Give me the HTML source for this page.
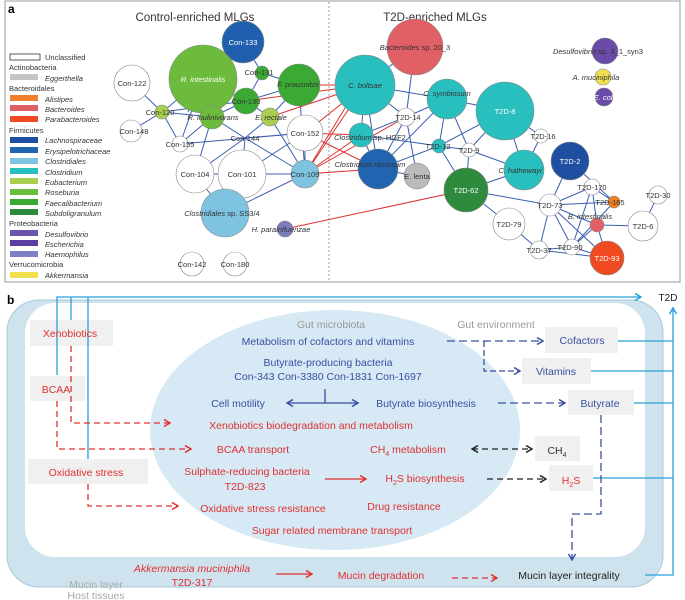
<!DOCTYPE html>
<html><head><meta charset="utf-8"><style>
body{margin:0;background:#fff}
svg{display:block;font-family:"Liberation Sans",sans-serif}
</style></head><body>
<svg width="685" height="600" viewBox="0 0 685 600" xmlns="http://www.w3.org/2000/svg">
<defs>
<marker id="ab" markerWidth="8" markerHeight="8" refX="7" refY="4" orient="auto" markerUnits="userSpaceOnUse"><path d="M1,0.5 L7,4 L1,7.5" fill="none" stroke="#3a4fa0" stroke-width="1.5"/></marker>
<marker id="ar" markerWidth="8" markerHeight="8" refX="7" refY="4" orient="auto" markerUnits="userSpaceOnUse"><path d="M1,0.5 L7,4 L1,7.5" fill="none" stroke="#e03030" stroke-width="1.5"/></marker>
<marker id="ak" markerWidth="8" markerHeight="8" refX="7" refY="4" orient="auto" markerUnits="userSpaceOnUse"><path d="M1,0.5 L7,4 L1,7.5" fill="none" stroke="#222" stroke-width="1.5"/></marker>
<marker id="akr" markerWidth="8" markerHeight="8" refX="1" refY="4" orient="auto" markerUnits="userSpaceOnUse"><path d="M7,0.5 L1,4 L7,7.5" fill="none" stroke="#222" stroke-width="1.5"/></marker>
<marker id="abr" markerWidth="8" markerHeight="8" refX="1" refY="4" orient="auto" markerUnits="userSpaceOnUse"><path d="M7,0.5 L1,4 L7,7.5" fill="none" stroke="#3a4fa0" stroke-width="1.5"/></marker>
<marker id="ac" markerWidth="8" markerHeight="8" refX="7" refY="4" orient="auto" markerUnits="userSpaceOnUse"><path d="M1,0.5 L7,4 L1,7.5" fill="none" stroke="#2aa0dc" stroke-width="1.5"/></marker>
</defs>

<!-- PANEL A -->
<rect x="5" y="1" width="675" height="281" fill="#fff" stroke="#999" stroke-width="1"/>
<line x1="329" y1="2" x2="329" y2="281" stroke="#999" stroke-dasharray="2,2"/>
<text x="8" y="13" font-size="12" font-weight="bold">a</text>
<text x="195" y="21" font-size="11.5" text-anchor="middle" fill="#333">Control-enriched MLGs</text>
<text x="435" y="21" font-size="11.5" text-anchor="middle" fill="#333">T2D-enriched MLGs</text>

<g font-size="7.5" fill="#333">
<rect x="10" y="54" width="30" height="6" fill="#fff" stroke="#333" stroke-width="0.8"/><text x="45" y="60">Unclassified</text>
<text x="9" y="70">Actinobacteria</text>
<rect x="10" y="74" width="28" height="6" fill="#c4c4c4"/><text x="45" y="81" font-style="italic">Eggerthella</text>
<text x="9" y="91">Bacteroidales</text>
<rect x="10" y="95" width="28" height="6" fill="#f08030"/><text x="45" y="102" font-style="italic">Alistipes</text>
<rect x="10" y="105" width="28" height="6" fill="#e06066"/><text x="45" y="112" font-style="italic">Bacteroides</text>
<rect x="10" y="116" width="28" height="6" fill="#f04a25"/><text x="45" y="122" font-style="italic">Parabacteroides</text>
<text x="9" y="133">Firmicutes</text>
<rect x="10" y="137" width="28" height="6" fill="#1f4fa0"/><text x="45" y="143" font-style="italic">Lachnospiraceae</text>
<rect x="10" y="147" width="28" height="6" fill="#2165b0"/><text x="45" y="154" font-style="italic">Erysipelotrichaceae</text>
<rect x="10" y="158" width="28" height="6" fill="#7ec4e0"/><text x="45" y="164" font-style="italic">Clostridiales</text>
<rect x="10" y="168" width="28" height="6" fill="#2abfbf"/><text x="45" y="175" font-style="italic">Clostridium</text>
<rect x="10" y="178" width="28" height="6" fill="#a8cf4f"/><text x="45" y="185" font-style="italic">Eubacterium</text>
<rect x="10" y="189" width="28" height="6" fill="#6cbb3c"/><text x="45" y="195" font-style="italic">Roseburia</text>
<rect x="10" y="199" width="28" height="6" fill="#3aaa35"/><text x="45" y="206" font-style="italic">Faecalibacterium</text>
<rect x="10" y="209" width="28" height="6" fill="#2e8b3e"/><text x="45" y="216" font-style="italic">Subdoligranulum</text>
<text x="9" y="226">Proteobacteria</text>
<rect x="10" y="230" width="28" height="6" fill="#6a55a8"/><text x="45" y="237" font-style="italic">Desulfovibrio</text>
<rect x="10" y="240" width="28" height="6" fill="#5a3ea0"/><text x="45" y="247" font-style="italic">Escherichia</text>
<rect x="10" y="251" width="28" height="6" fill="#8080c4"/><text x="45" y="257" font-style="italic">Haemophilus</text>
<text x="9" y="267">Verrucomicrobia</text>
<rect x="10" y="272" width="28" height="6" fill="#f0e050"/><text x="45" y="278" font-style="italic">Akkermansia</text>
</g>

<g stroke="#3a5fb0" stroke-width="1" fill="none">
<path d="M243,42 L262,73 L246,101 M262,73 L299,85 M246,101 L299,85 M203,79 L246,101 M203,79 L162,112 M203,79 L212,117 M203,79 L180,144 M203,79 L188,112 M132,83 L162,112 M162,112 L246,101 M162,112 L131,131 M162,112 L180,144 M162,112 L212,117 M212,117 L245,138 M212,117 L195,174 M212,117 L180,144 M246,101 L212,117 M246,101 L270,117 M299,85 L270,117 M299,85 L305,174 M270,117 L305,174 M270,117 L245,138 M180,144 L305,133 M245,138 L195,174 M245,138 L242,174 M245,138 L305,174 M245,138 L305,133 M305,133 L305,174 M305,133 L242,174 M195,174 L242,174 M242,174 L305,174 M195,174 L225,213 M242,174 L225,213 M225,213 L305,174"/>
<path d="M365,85 L415,47 M415,47 L406,117 M365,85 L447,99 M365,85 L406,117 M365,85 L361,135 M365,85 L378,169 M447,99 L505,111 M447,99 L439,146 M447,99 L406,117 M447,99 L469,150 M447,99 L378,169 M361,135 L439,146 M361,135 L378,169 M361,135 L406,117 M406,117 L378,169 M406,117 L417,176 M439,146 L378,169 M439,146 L466,190 M439,146 L469,150 M439,146 L505,111 M469,150 L505,111 M469,150 L466,190 M469,150 L524,170 M505,111 L524,170 M505,111 L541,136 M541,136 L524,170 M378,169 L417,176 M466,190 L524,170 M466,190 L550,205 M466,190 L509,224 M570,161 L550,205 M570,161 L614,202 M550,205 L592,187 M550,205 L614,202 M550,205 L597,225 M550,205 L539,250 M550,205 L572,247 M550,205 L607,258 M592,187 L572,247 M592,187 L597,225 M592,187 L614,202 M509,224 L539,250 M539,250 L572,247 M572,247 L607,258 M597,225 L643,226 M597,225 L607,258 M597,225 L572,247 M614,202 L572,247 M643,226 L658,195 M539,250 L607,258"/>
</g>
<g stroke="#e03030" stroke-width="1" fill="none">
<path d="M299,85 L365,85 M246,101 L365,85 M270,117 L365,85 M305,133 L361,135 M305,133 L378,169 M305,174 L365,85 M305,174 L361,135 M305,174 L378,169 M305,174 L406,117 M305,133 L365,85 M285,229 L466,190 M305,174 L345,108"/>
</g>

<g stroke="#888" stroke-width="0.6">
<circle cx="243" cy="42" r="21" fill="#1f5fae"/>
<circle cx="203" cy="79" r="34" fill="#6cbb3c"/>
<circle cx="262" cy="73" r="7" fill="#3aaa35"/>
<circle cx="299" cy="85" r="21" fill="#3aaa35"/>
<circle cx="132" cy="83" r="18" fill="#fff"/>
<circle cx="246" cy="101" r="13" fill="#3aaa35"/>
<circle cx="162" cy="112" r="7" fill="#a8cf4f"/>
<circle cx="212" cy="117" r="12" fill="#6cbb3c"/>
<circle cx="270" cy="117" r="9" fill="#a8cf4f"/>
<circle cx="131" cy="131" r="11" fill="#fff"/>
<circle cx="305" cy="133" r="18" fill="#fff"/>
<circle cx="180" cy="144" r="8" fill="#fff"/>
<circle cx="195" cy="174" r="19" fill="#fff"/>
<circle cx="242" cy="174" r="24" fill="#fff"/>
<circle cx="305" cy="174" r="14" fill="#7ec4e0"/>
<circle cx="225" cy="213" r="24" fill="#7ec4e0"/>
<circle cx="285" cy="229" r="8" fill="#7c7cc0"/>
<circle cx="192" cy="264" r="12" fill="#fff"/>
<circle cx="235" cy="264" r="12" fill="#fff"/>
<circle cx="415" cy="47" r="28" fill="#e06066"/>
<circle cx="365" cy="85" r="30" fill="#2abfbf"/>
<circle cx="447" cy="99" r="20" fill="#2abfbf"/>
<circle cx="505" cy="111" r="29" fill="#2abfbf"/>
<circle cx="406" cy="117" r="9" fill="#fff"/>
<circle cx="361" cy="135" r="12" fill="#2abfbf"/>
<circle cx="439" cy="146" r="7" fill="#2abfbf"/>
<circle cx="469" cy="150" r="7" fill="#fff"/>
<circle cx="541" cy="136" r="7" fill="#fff"/>
<circle cx="378" cy="169" r="20" fill="#2165b0"/>
<circle cx="417" cy="176" r="13" fill="#bbbbbb"/>
<circle cx="524" cy="170" r="20" fill="#2abfbf"/>
<circle cx="570" cy="161" r="19" fill="#1f4fa0"/>
<circle cx="466" cy="190" r="22" fill="#2e8b3e"/>
<circle cx="592" cy="187" r="8" fill="#fff"/>
<circle cx="614" cy="202" r="6" fill="#f08020"/>
<circle cx="658" cy="195" r="9" fill="#fff"/>
<circle cx="550" cy="205" r="11" fill="#fff"/>
<circle cx="597" cy="225" r="7" fill="#e06066"/>
<circle cx="643" cy="226" r="15" fill="#fff"/>
<circle cx="509" cy="224" r="16" fill="#fff"/>
<circle cx="539" cy="250" r="9" fill="#fff"/>
<circle cx="572" cy="247" r="8" fill="#fff"/>
<circle cx="607" cy="258" r="17" fill="#f04a20"/>
<circle cx="605" cy="51" r="13" fill="#6a4ca8"/>
<circle cx="603" cy="77" r="8" fill="#f0e050"/>
<circle cx="604" cy="97" r="9" fill="#6a4ca8"/>
</g>
<g font-size="7.5" fill="#333" text-anchor="middle">
<text x="243" y="45" fill="#fff">Con-133</text>
<text x="203" y="82" font-style="italic" fill="#fff">R. intestinalis</text>
<text x="259" y="75">Con-131</text>
<text x="298" y="87" font-style="italic">F. prausnitzii</text>
<text x="132" y="86">Con-122</text>
<text x="246" y="104">Con-130</text>
<text x="160" y="115">Con-120</text>
<text x="213" y="120" font-style="italic">R. inulinivorans</text>
<text x="271" y="120" font-style="italic">E. rectale</text>
<text x="134" y="134">Con-148</text>
<text x="305" y="136">Con-152</text>
<text x="180" y="147">Con-155</text>
<text x="245" y="141">Con-144</text>
<text x="195" y="177">Con-104</text>
<text x="242" y="177">Con-101</text>
<text x="305" y="177">Con-109</text>
<text x="222" y="216"><tspan font-style="italic">Clostridiales</tspan> sp. SS3/4</text>
<text x="281" y="232" font-style="italic">H. parainfluenzae</text>
<text x="192" y="267">Con-142</text>
<text x="235" y="267">Con-180</text>
<text x="415" y="50"><tspan font-style="italic">Bacteroides</tspan> sp. 20_3</text>
<text x="365" y="88" font-style="italic">C. boltsae</text>
<text x="447" y="96" font-style="italic">C. symbiosum</text>
<text x="505" y="114" fill="#fff">T2D-8</text>
<text x="408" y="120">T2D-14</text>
<text x="370" y="140"><tspan font-style="italic">Clostridium</tspan> sp. HGF2</text>
<text x="438" y="149">T2D-12</text>
<text x="469" y="153">T2D-9</text>
<text x="543" y="139">T2D-16</text>
<text x="370" y="167" font-style="italic">Clostridium ramosum</text>
<text x="417" y="179">E. lenta</text>
<text x="520" y="173" font-style="italic">C. hathewayi</text>
<text x="570" y="164" fill="#fff">T2D-2</text>
<text x="466" y="193" fill="#fff">T2D-62</text>
<text x="592" y="190">T2D-170</text>
<text x="610" y="205">T2D-165</text>
<text x="658" y="198">T2D-30</text>
<text x="550" y="208">T2D-73</text>
<text x="590" y="219" font-style="italic">B. intestinalis</text>
<text x="643" y="229">T2D-6</text>
<text x="509" y="227">T2D-79</text>
<text x="539" y="253">T2D-37</text>
<text x="570" y="250">T2D-90</text>
<text x="607" y="261" fill="#fff">T2D-93</text>
<text x="598" y="54" font-style="italic"><tspan>Desulfovibrio</tspan> <tspan font-style="normal">sp. 3_1_syn3</tspan></text>
<text x="596" y="80" font-style="italic">A. muciniphila</text>
<text x="604" y="100" font-style="italic" fill="#fff">E. coli</text>
</g>

<!-- PANEL B -->
<text x="7" y="304" font-size="12" font-weight="bold">b</text>
<rect x="7" y="300" width="656" height="287" rx="32" fill="#cfe3ee" stroke="#a9c9dc"/>
<rect x="25" y="303" width="620" height="254" rx="30" fill="#fff"/>
<ellipse cx="335" cy="430" rx="185" ry="120" fill="#d6e9f4"/>

<g fill="#f0f0f0">
<rect x="30" y="320" width="83" height="26"/>
<rect x="30" y="376" width="55" height="25"/>
<rect x="28" y="459" width="120" height="25"/>
<rect x="545" y="327" width="73" height="26"/>
<rect x="522" y="358" width="69" height="26"/>
<rect x="568" y="390" width="66" height="25"/>
<rect x="535" y="436" width="45" height="25"/>
<rect x="549" y="465" width="44" height="26"/>
</g>

<g stroke="#2aa0dc" stroke-width="1.3" fill="none">
<path d="M57,375 L57,297 L641,297" marker-end="url(#ac)"/>
<path d="M71,320 L71,297 M88,459 L88,297"/>
<path d="M618,341 L673,341 M591,371 L673,371 M634,403 L673,403 M593,478 L673,478 M645,575 L673,575 L673,307"/>
<path d="M673,312 L673,308" marker-end="url(#ac)"/>
</g>
<g stroke="#e03030" stroke-width="1.3" fill="none" stroke-dasharray="6,4">
<path d="M71,346 L71,423 L170,423" marker-end="url(#ar)"/>
<path d="M57,401 L57,449 L191,449" marker-end="url(#ar)"/>
<path d="M88,484 L88,506 L178,506" marker-end="url(#ar)"/>
<path d="M452,578 L497,578" marker-end="url(#ar)"/>
</g>
<g stroke="#e03030" stroke-width="1.3" fill="none">
<path d="M325,479 L366,479" marker-end="url(#ar)"/>
<path d="M276,574 L312,574" marker-end="url(#ar)"/>
</g>
<g stroke="#3a4fa0" stroke-width="1.3" fill="none">
<path d="M287,403 L358,403" marker-start="url(#abr)" marker-end="url(#ab)"/>
<path d="M325,389 L325,403"/>
</g>
<g stroke="#3a4fa0" stroke-width="1.3" fill="none" stroke-dasharray="8,4">
<path d="M447,341 L543,341" marker-end="url(#ab)"/>
<path d="M484,341 L484,371 L520,371" marker-end="url(#ab)" stroke-dasharray="6,3"/>
<path d="M498,403 L565,403" marker-end="url(#ab)"/>
<path d="M601,415 L601,514 L572,514 L572,560" marker-end="url(#ab)"/>
</g>
<g stroke="#222" stroke-width="1.3" fill="none" stroke-dasharray="6,4">
<path d="M472,449 L532,449" marker-start="url(#akr)" marker-end="url(#ak)"/>
<path d="M487,479 L546,479" marker-end="url(#ak)"/>
</g>

<g font-size="10.5" text-anchor="middle">
<text x="70" y="337" fill="#e03030">Xenobiotics</text>
<text x="56" y="393" fill="#e03030">BCAA</text>
<text x="86" y="476" fill="#e03030">Oxidative stress</text>
<text x="582" y="344" fill="#3a4fa0">Cofactors</text>
<text x="556" y="375" fill="#3a4fa0">Vitamins</text>
<text x="600" y="407" fill="#3a4fa0">Butyrate</text>
<text x="557" y="454" fill="#333">CH<tspan font-size="7" dy="3">4</tspan></text>
<text x="571" y="484" fill="#e03030">H<tspan font-size="7" dy="3">2</tspan><tspan dy="-3">S</tspan></text>
<text x="331" y="328" fill="#999">Gut microbiota</text>
<text x="496" y="328" fill="#999">Gut environment</text>
<text x="328" y="345" fill="#3a4fa0">Metabolism of cofactors and vitamins</text>
<text x="328" y="366" fill="#3a4fa0">Butyrate-producing bacteria</text>
<text x="328" y="380" fill="#3a4fa0">Con-343 Con-3380 Con-1831 Con-1697</text>
<text x="238" y="407" fill="#3a4fa0">Cell motility</text>
<text x="426" y="407" fill="#3a4fa0">Butyrate biosynthesis</text>
<text x="311" y="429" fill="#e03030">Xenobiotics biodegradation and metabolism</text>
<text x="253" y="453" fill="#e03030">BCAA transport</text>
<text x="408" y="453" fill="#e03030">CH<tspan font-size="7" dy="3">4</tspan><tspan dy="-3"> metabolism</tspan></text>
<text x="247" y="475" fill="#e03030">Sulphate-reducing bacteria</text>
<text x="245" y="490" fill="#e03030">T2D-823</text>
<text x="425" y="482" fill="#e03030">H<tspan font-size="7" dy="3">2</tspan><tspan dy="-3">S biosynthesis</tspan></text>
<text x="263" y="512" fill="#e03030">Oxidative stress resistance</text>
<text x="404" y="510" fill="#e03030">Drug resistance</text>
<text x="332" y="534" fill="#e03030">Sugar related membrane transport</text>
<text x="192" y="572" fill="#e03030" font-style="italic">Akkermansia muciniphila</text>
<text x="192" y="586" fill="#e03030">T2D-317</text>
<text x="381" y="579" fill="#e03030">Mucin degradation</text>
<text x="569" y="579" fill="#222">Mucin layer integrality</text>
<text x="96" y="588" fill="#aaa">Mucin layer</text>
<text x="96" y="599" fill="#aaa">Host tissues</text>
<text x="668" y="301" fill="#222" font-size="10">T2D</text>
</g>
</svg>
</body></html>
